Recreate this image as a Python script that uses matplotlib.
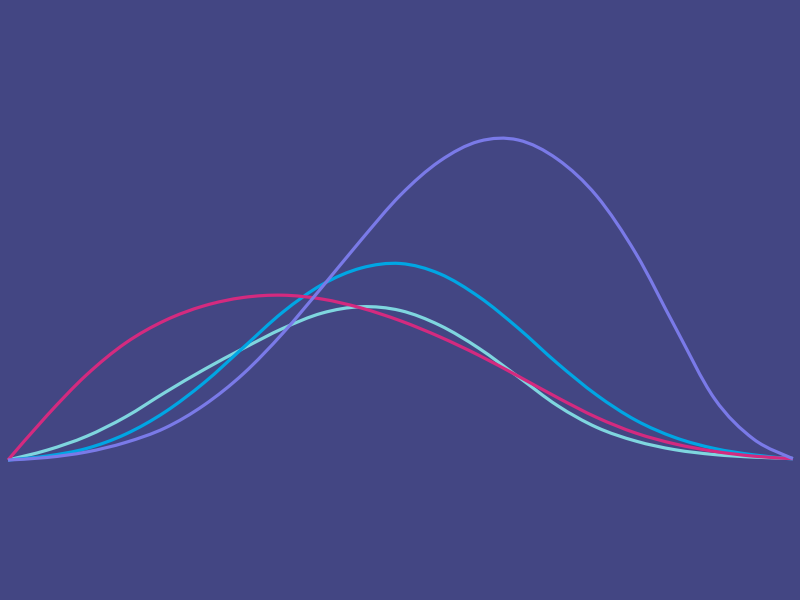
import numpy as np
import matplotlib.pyplot as plt
from matplotlib.path import Path
from matplotlib.patches import PathPatch

# --- dados (escala 0-100) ---
x = np.arange(0, 101, 5)

rosa = [0, 14.0, 26.6, 36.6, 43.6, 48.2, 50.8, 51.5, 50.3, 47.5, 43.5,
        38.5, 32.7, 26.2, 19.5, 13.3, 8.4, 5.0, 2.7, 1.2, 0.4]
ciano_claro = [0, 3.1, 7.4, 13.5, 21.1, 28.3, 34.9, 41.1, 45.9, 47.9, 46.7,
               42.1, 34.9, 26.0, 17.0, 10.2, 5.9, 3.2, 1.7, 0.9, 0.5]
azul = [0, 1.25, 3.6, 8.1, 15.0, 24.2, 35.2, 46.2, 54.8, 60.0, 61.4,
        58.2, 51.0, 41.2, 30.2, 20.3, 12.4, 7.0, 3.6, 1.6, 0.3]
lavanda = [0, 0.8, 2.5, 5.5, 10.0, 17.2, 27.0, 39.6, 54.0, 68.8, 82.8,
           93.4, 99.6, 100.0, 94.0, 82.5, 64.5, 41.5, 19.2, 6.5, 0.4]

fundo = '#434683'
series = [
    (ciano_claro, '#7fd6df'),
    (azul, '#00a6e4'),
    (rosa, '#d42a7f'),
    (lavanda, '#7a7ae8'),
]


# curva suave (catmull-rom -> bezier) passando pelos pontos
def curva_suave(xs, ys):
    pts = np.column_stack([xs, ys]).astype(float)
    n = len(pts)
    verts = [pts[0]]
    codes = [Path.MOVETO]
    for i in range(n - 1):
        p0 = pts[max(i - 1, 0)]
        p1 = pts[i]
        p2 = pts[i + 1]
        p3 = pts[min(i + 2, n - 1)]
        verts += [p1 + (p2 - p0) / 6, p2 - (p3 - p1) / 6, p2]
        codes += [Path.CURVE4] * 3
    return Path(verts, codes)


fig = plt.figure(figsize=(8, 6), dpi=100, facecolor=fundo)
ax = fig.add_axes([0, 0, 1, 1])
ax.set_facecolor(fundo)

for valores, cor in series:
    ax.add_patch(PathPatch(curva_suave(x, valores), fill=False,
                           edgecolor=cor, lw=2.3))

ax.set_xlim(-1.02, 100.9)
ax.set_ylim(-43.75, 143.75)
ax.axis('off')

fig.savefig('out.png', dpi=100, facecolor=fundo)
